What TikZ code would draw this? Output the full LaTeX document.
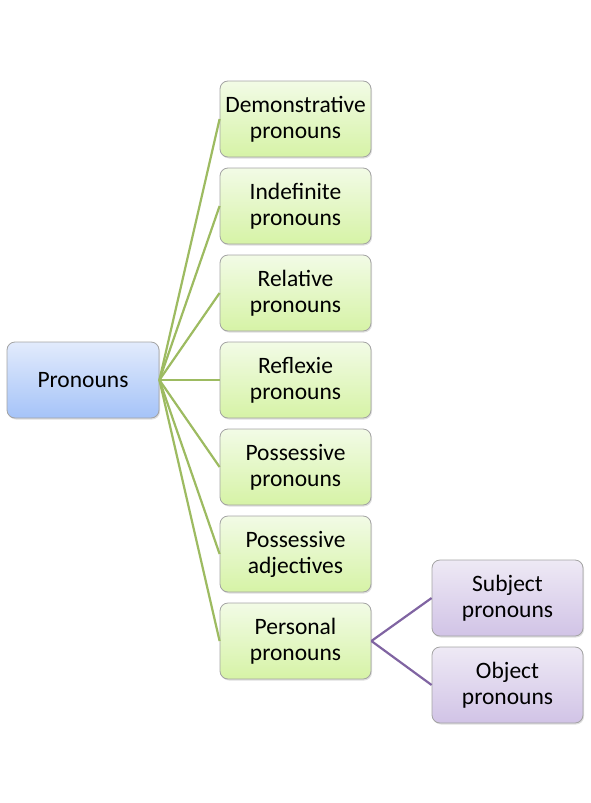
\documentclass[tikz,border=0pt]{standalone}
\usepackage{fontspec}
\setmainfont{Carlito}
\usetikzlibrary{shadows}
\definecolor{gtop}{HTML}{F2FBE6}
\definecolor{gbot}{HTML}{D6F3A6}
\definecolor{gline}{HTML}{9DBB61}
\definecolor{btop}{HTML}{E2EBFC}
\definecolor{bbot}{HTML}{A5C3F8}
\definecolor{ptop}{HTML}{EEE9F5}
\definecolor{pbot}{HTML}{D1C3E6}
\definecolor{pline}{HTML}{8064A2}
\definecolor{bord}{HTML}{8C8C8C}
\tikzset{
  box/.style={draw=bord!80, line width=0.8pt, rounded corners=8pt, minimum width=151pt, minimum height=76pt,
    align=center, inner sep=0pt, font=\fontsize{23.5}{26}\selectfont,
    drop shadow={shadow xshift=1pt, shadow yshift=-1.5pt, opacity=0.25}},
  gbox/.style={box, top color=gtop, bottom color=gbot},
  bbox/.style={box, top color=btop, bottom color=bbot},
  pbox/.style={box, top color=ptop, bottom color=pbot},
  gedge/.style={draw=gline, line width=2.2pt},
  pedge/.style={draw=pline, line width=2.2pt},
}
\begin{document}
\begin{tikzpicture}[x=1pt,y=-1pt]
\useasboundingbox (0,0) rectangle (590,803);
\node[bbox, minimum width=152pt] (pro) at (83,380) {Pronouns};
\node[gbox] (dem) at (295.5,119) {Demonstrative\\pronouns};
\node[gbox] (ind) at (295.5,206) {Indefinite\\pronouns};
\node[gbox] (rel) at (295.5,293) {Relative\\pronouns};
\node[gbox] (ref) at (295.5,380) {Reflexie\\pronouns};
\node[gbox] (pos) at (295.5,467) {Possessive\\pronouns};
\node[gbox] (adj) at (295.5,554) {Possessive\\adjectives};
\node[gbox] (per) at (295.5,641) {Personal\\pronouns};
\node[pbox] (sub) at (507.5,598) {Subject\\pronouns};
\node[pbox] (obj) at (507.5,685) {Object\\pronouns};
\foreach \n in {dem,ind,rel,ref,pos,adj,per}
  \draw[gedge] (pro.east) -- (\n.west);
\draw[pedge] (per.east) -- (sub.west);
\draw[pedge] (per.east) -- (obj.west);
\end{tikzpicture}
\end{document}
